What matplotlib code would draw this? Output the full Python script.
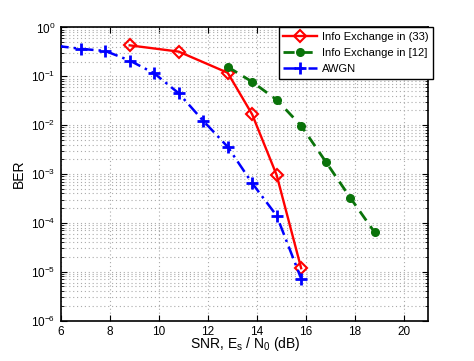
import numpy as np
import matplotlib
matplotlib.use("Agg")
import matplotlib.pyplot as plt
from matplotlib.ticker import LogLocator, NullFormatter

plt.rcParams['font.family'] = ['Liberation Sans', 'DejaVu Sans']
plt.rcParams['mathtext.fontset'] = 'custom'
plt.rcParams['mathtext.rm'] = 'Liberation Sans'
plt.rcParams['mathtext.it'] = 'Liberation Sans'

# ----------------------------- DATA ------------------------------------------
snr_33 = [8.8, 10.8, 12.8, 13.8, 14.8, 15.8]
ber_33 = [0.43, 0.32, 0.118, 0.0166, 9.5e-4, 1.18e-5]

snr_12 = [12.8, 13.8, 14.8, 15.8, 16.8, 17.8, 18.8]
ber_12 = [0.156, 0.077, 0.033, 0.0097, 1.8e-3, 3.3e-4, 6.4e-5]

snr_awgn = [5.8, 6.8, 7.8, 8.8, 9.8, 10.8, 11.8, 12.8, 13.8, 14.8, 15.8]
ber_awgn = [0.42, 0.365, 0.33, 0.21, 0.115, 0.045, 0.0123, 0.0036, 6.5e-4, 1.4e-4, 7.2e-6]

labels = ["Info Exchange in (33)", "Info Exchange in [12]", "AWGN"]

# ----------------------------- PLOT ------------------------------------------
fig = plt.figure(figsize=(4.74, 3.61), dpi=100)
ax = fig.add_axes([0.129, 0.112, 0.775, 0.812])

ax.semilogy(snr_33, ber_33, color="#ff0000", ls="-", lw=1.7, marker="D", ms=6.5,
            mfc="none", mec="#ff0000", mew=1.5, label=labels[0], zorder=3)
ax.semilogy(snr_12, ber_12, color="#0a730a", ls=(0, (4, 2.5)), lw=2.0, marker="o",
            ms=5.5, mfc="#0a730a", mec="#0a730a", label=labels[1], zorder=4)
ax.semilogy(snr_awgn, ber_awgn, color="#0000ff", ls=(0, (5, 2, 1, 2)), lw=1.8,
            marker="+", ms=8, mew=2, label=labels[2], zorder=5)

ax.set_xlim(6, 21)
ax.set_ylim(1e-6, 1)
ax.set_xticks(np.arange(6, 21, 2))
ax.yaxis.set_major_locator(LogLocator(base=10, numticks=10))
ax.yaxis.set_minor_locator(LogLocator(base=10, subs=np.arange(2, 10), numticks=20))
ax.yaxis.set_minor_formatter(NullFormatter())

ax.grid(True, which="major", axis="both", color="#aaaaaa", ls=(0, (1, 2.5)), lw=0.8)
ax.grid(True, which="minor", axis="y", color="#aaaaaa", ls=(0, (1, 2.5)), lw=0.8)

ax.tick_params(which="both", direction="in", top=True, right=True, labelsize=8.5)
ax.tick_params(which="major", length=4, pad=4)
ax.tick_params(which="minor", length=2)
for s in ax.spines.values():
    s.set_linewidth(1.2)

ax.set_xlabel(r"SNR, E$_s$ / N$_0$ (dB)", fontsize=10, labelpad=-2)
ax.set_ylabel("BER", fontsize=10, labelpad=4)

leg = ax.legend(loc="upper right", bbox_to_anchor=(1.012, 1.0), fontsize=8,
                fancybox=False, edgecolor="black", framealpha=1,
                handlelength=3.1, borderpad=0.4, labelspacing=0.55,
                handletextpad=0.4, borderaxespad=0)
leg.get_frame().set_linewidth(1.0)

fig.savefig("out.png", dpi=100, facecolor="white")
